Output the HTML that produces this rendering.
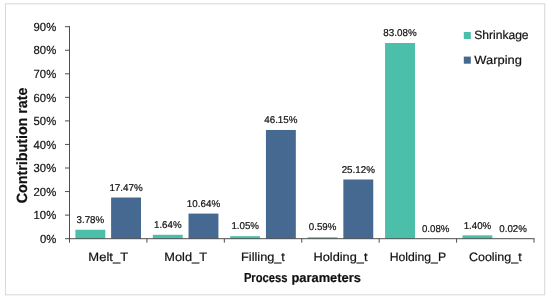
<!DOCTYPE html>
<html><head><meta charset="utf-8"><title>Contribution rate</title>
<style>html,body{margin:0;padding:0;background:#fff}svg{display:block}text{text-rendering:geometricPrecision;font-family:"Liberation Sans",sans-serif;fill:#111;stroke:#111;stroke-width:0.2px}</style></head><body>
<svg width="550" height="300" viewBox="0 0 550 300">
<rect x="0" y="0" width="550" height="300" fill="#fff"/>
<rect x="5.5" y="3.8" width="539.2" height="291" fill="#fff" stroke="#dadada" stroke-width="1.1"/>
<rect x="75.40" y="229.75" width="29.90" height="8.90" fill="#4bbfa9"/>
<text x="90.35" y="222.95" font-size="9.9" text-anchor="middle" textLength="27.6" lengthAdjust="spacingAndGlyphs">3.78%</text>
<rect x="111.10" y="197.51" width="29.90" height="41.14" fill="#466992"/>
<text x="126.05" y="190.71" font-size="9.9" text-anchor="middle" textLength="33.3" lengthAdjust="spacingAndGlyphs">17.47%</text>
<rect x="152.82" y="234.79" width="29.90" height="3.86" fill="#4bbfa9"/>
<text x="167.77" y="227.99" font-size="9.9" text-anchor="middle" textLength="27.6" lengthAdjust="spacingAndGlyphs">1.64%</text>
<rect x="188.52" y="213.59" width="29.90" height="25.06" fill="#466992"/>
<text x="203.47" y="206.79" font-size="9.9" text-anchor="middle" textLength="33.3" lengthAdjust="spacingAndGlyphs">10.64%</text>
<rect x="230.23" y="236.18" width="29.90" height="2.47" fill="#4bbfa9"/>
<text x="245.18" y="229.38" font-size="9.9" text-anchor="middle" textLength="27.6" lengthAdjust="spacingAndGlyphs">1.05%</text>
<rect x="265.93" y="129.97" width="29.90" height="108.68" fill="#466992"/>
<text x="280.88" y="123.17" font-size="9.9" text-anchor="middle" textLength="33.3" lengthAdjust="spacingAndGlyphs">46.15%</text>
<rect x="307.65" y="237.26" width="29.90" height="1.39" fill="#4bbfa9"/>
<text x="322.60" y="230.46" font-size="9.9" text-anchor="middle" textLength="27.6" lengthAdjust="spacingAndGlyphs">0.59%</text>
<rect x="343.35" y="179.49" width="29.90" height="59.16" fill="#466992"/>
<text x="358.30" y="172.69" font-size="9.9" text-anchor="middle" textLength="33.3" lengthAdjust="spacingAndGlyphs">25.12%</text>
<rect x="385.07" y="43.00" width="29.90" height="195.65" fill="#4bbfa9"/>
<text x="400.02" y="36.20" font-size="9.9" text-anchor="middle" textLength="33.3" lengthAdjust="spacingAndGlyphs">83.08%</text>
<rect x="420.77" y="238.46" width="29.90" height="0.19" fill="#466992"/>
<text x="435.72" y="231.66" font-size="9.9" text-anchor="middle" textLength="27.6" lengthAdjust="spacingAndGlyphs">0.08%</text>
<rect x="462.48" y="235.35" width="29.90" height="3.30" fill="#4bbfa9"/>
<text x="477.43" y="228.55" font-size="9.9" text-anchor="middle" textLength="27.6" lengthAdjust="spacingAndGlyphs">1.40%</text>
<rect x="498.18" y="238.60" width="29.90" height="0.05" fill="#466992"/>
<text x="513.13" y="231.80" font-size="9.9" text-anchor="middle" textLength="27.6" lengthAdjust="spacingAndGlyphs">0.02%</text>
<g stroke="#464646" stroke-width="0.95" fill="none">
<path d="M69.5 26.2 V242.7"/>
<path d="M65.0 238.7 H534.5"/>
<path d="M65.0 215.10 H69.5"/>
<path d="M65.0 191.55 H69.5"/>
<path d="M65.0 168.00 H69.5"/>
<path d="M65.0 144.45 H69.5"/>
<path d="M65.0 120.90 H69.5"/>
<path d="M65.0 97.35 H69.5"/>
<path d="M65.0 73.80 H69.5"/>
<path d="M65.0 50.25 H69.5"/>
<path d="M65.0 26.70 H69.5"/>
<path d="M146.92 238.7 V242.7"/>
<path d="M224.33 238.7 V242.7"/>
<path d="M301.75 238.7 V242.7"/>
<path d="M379.17 238.7 V242.7"/>
<path d="M456.58 238.7 V242.7"/>
<path d="M534.00 238.7 V242.7"/>
</g>
<text x="56.2" y="242.85" font-size="11.8" text-anchor="end" textLength="16.3" lengthAdjust="spacingAndGlyphs">0%</text>
<text x="56.2" y="219.30" font-size="11.8" text-anchor="end" textLength="22.6" lengthAdjust="spacingAndGlyphs">10%</text>
<text x="56.2" y="195.75" font-size="11.8" text-anchor="end" textLength="22.6" lengthAdjust="spacingAndGlyphs">20%</text>
<text x="56.2" y="172.20" font-size="11.8" text-anchor="end" textLength="22.6" lengthAdjust="spacingAndGlyphs">30%</text>
<text x="56.2" y="148.65" font-size="11.8" text-anchor="end" textLength="22.6" lengthAdjust="spacingAndGlyphs">40%</text>
<text x="56.2" y="125.10" font-size="11.8" text-anchor="end" textLength="22.6" lengthAdjust="spacingAndGlyphs">50%</text>
<text x="56.2" y="101.55" font-size="11.8" text-anchor="end" textLength="22.6" lengthAdjust="spacingAndGlyphs">60%</text>
<text x="56.2" y="78.00" font-size="11.8" text-anchor="end" textLength="22.6" lengthAdjust="spacingAndGlyphs">70%</text>
<text x="56.2" y="54.45" font-size="11.8" text-anchor="end" textLength="22.6" lengthAdjust="spacingAndGlyphs">80%</text>
<text x="56.2" y="30.90" font-size="11.8" text-anchor="end" textLength="22.6" lengthAdjust="spacingAndGlyphs">90%</text>
<text x="108.2" y="260.5" font-size="12.1" text-anchor="middle" textLength="39.8" lengthAdjust="spacingAndGlyphs">Melt_T</text>
<text x="185.6" y="260.5" font-size="12.1" text-anchor="middle" textLength="42.7" lengthAdjust="spacingAndGlyphs">Mold_T</text>
<text x="263.0" y="260.5" font-size="12.1" text-anchor="middle" textLength="43.8" lengthAdjust="spacingAndGlyphs">Filling_t</text>
<text x="340.5" y="260.5" font-size="12.1" text-anchor="middle" textLength="53.9" lengthAdjust="spacingAndGlyphs">Holding_t</text>
<text x="417.9" y="260.5" font-size="12.1" text-anchor="middle" textLength="56.3" lengthAdjust="spacingAndGlyphs">Holding_P</text>
<text x="495.3" y="260.5" font-size="12.1" text-anchor="middle" textLength="52.7" lengthAdjust="spacingAndGlyphs">Cooling_t</text>
<text x="243.9" y="282.1" font-size="13" font-weight="bold" textLength="43.6" lengthAdjust="spacingAndGlyphs">Process</text>
<text x="291.5" y="282.1" font-size="13" font-weight="bold" textLength="69.4" lengthAdjust="spacingAndGlyphs">parameters</text>
<text transform="translate(27.3 145.4) rotate(-90)" font-size="14.8" font-weight="bold" text-anchor="middle" textLength="115.8" lengthAdjust="spacingAndGlyphs">Contribution rate</text>
<rect x="463.8" y="32" width="7" height="7" fill="#4bbfa9"/>
<rect x="463.8" y="56.6" width="7" height="7.1" fill="#466992"/>
<text x="474.2" y="39.45" font-size="12" textLength="54.4" lengthAdjust="spacingAndGlyphs">Shrinkage</text>
<text x="474.3" y="64" font-size="12" textLength="47.6" lengthAdjust="spacingAndGlyphs">Warping</text>
</svg></body></html>
